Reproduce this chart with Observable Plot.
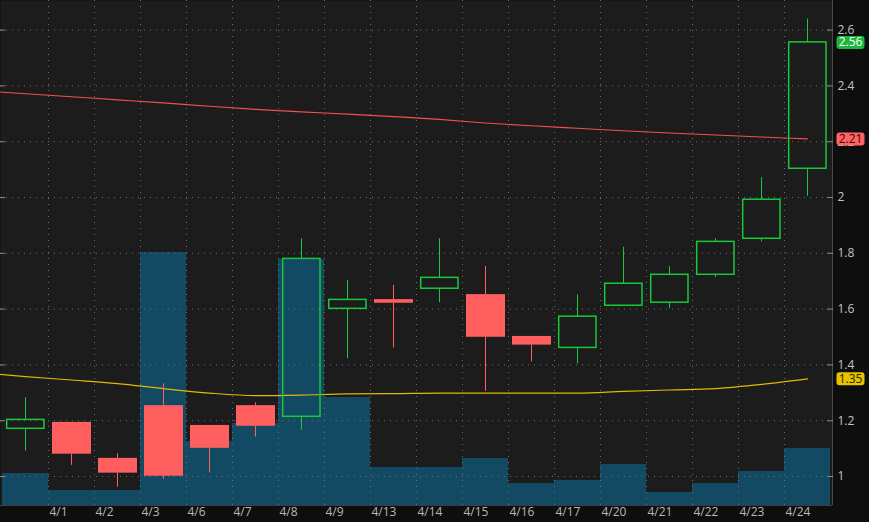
<!DOCTYPE html>
<html><head><meta charset="utf-8">
<script src="https://cdn.jsdelivr.net/npm/d3@7"></script>
<script src="https://cdn.jsdelivr.net/npm/@observablehq/plot@0.6"></script>
<style>
html,body{margin:0;padding:0;background:#0e0e0e;}
#chart{position:relative;width:869px;height:522px;overflow:hidden;}
#chart svg{position:absolute;left:0;top:0;}
</style></head><body><div id="chart"></div>
<script>
// ---- data ----
const dates  = ["3/31","4/1","4/2","4/3","4/6","4/7","4/8","4/9","4/13","4/14","4/15","4/16","4/17","4/20","4/21","4/22","4/23","4/24"];
const open   = [1.171,1.194,1.065,1.254,1.183,1.254,1.214,1.601,1.634,1.673,1.652,1.502,1.461,1.612,1.623,1.723,1.852,2.103];
const high   = [1.282,1.194,1.082,1.332,1.183,1.264,1.852,1.703,1.685,1.852,1.753,1.502,1.651,1.822,1.752,1.852,2.071,2.640];
const low    = [1.091,1.040,0.962,0.990,1.013,1.141,1.165,1.422,1.460,1.623,1.305,1.411,1.404,1.612,1.602,1.712,1.841,2.004];
const close  = [1.203,1.080,1.012,1.001,1.101,1.180,1.780,1.633,1.621,1.712,1.499,1.471,1.573,1.691,1.723,1.841,1.992,2.556];
const volume = [320,150,150,2530,640,820,2460,1080,380,380,470,220,250,410,130,220,340,570];
const maDates = ["3/30", ...dates];
const maSlow = [2.383,2.372,2.361,2.350,2.339,2.327,2.316,2.307,2.299,2.290,2.280,2.267,2.257,2.248,2.239,2.231,2.224,2.217,2.210];
const maFast = [1.372,1.358,1.346,1.333,1.315,1.299,1.290,1.292,1.296,1.297,1.299,1.299,1.299,1.299,1.305,1.310,1.315,1.330,1.350];
const priceTicks = [1,1.2,1.4,1.6,1.8,2,2.2,2.4,2.6];

// ---- styling ----
const GREEN = "#18c83a", RED = "#ff5f5f", MA_RED = "#f24f4f", MA_YEL = "#e3b800";
const VOL = "#134a63", GRID = "#6c6c6c", BG = "#1c1c1c";
const W = 869, H = 522, mR = 37, mB = 17;
const slot = 46;
const xDomain = [-0.5 - 2/slot, dates.length - 0.5 + 2/slot];
const yDomain = [0.8961, 2.7061];

const candles = dates.map((d, i) => ({i, date: d, o: open[i], h: high[i], l: low[i], c: close[i], v: volume[i], up: close[i] >= open[i]}));
const ups = candles.filter(d => d.up), downs = candles.filter(d => !d.up);
const slow = maDates.map((d, k) => ({i: k - 1, v: maSlow[k]}));
const fast = maDates.map((d, k) => ({i: k - 1, v: maFast[k]}));
const badges = [
  {v: close[close.length-1], bg: "#1cb83d", fg: "#ffffff"},
  {v: maSlow[maSlow.length-1], bg: "#ff6464", fg: "#3a0505"},
  {v: maFast[maFast.length-1], bg: "#e8c300", fg: "#2a2200"}
].map(b => ({...b, label: b.v.toFixed(2)}));

const badgeShape = {draw(ctx) {
  const w = 14, h = 6.5, r = 3;
  ctx.moveTo(-w + r, -h); ctx.lineTo(w - r, -h); ctx.arcTo(w, -h, w, -h + r, r);
  ctx.lineTo(w, h - r); ctx.arcTo(w, h, w - r, h, r);
  ctx.lineTo(-w + r, h); ctx.arcTo(-w, h, -w, h - r, r);
  ctx.lineTo(-w, -h + r); ctx.arcTo(-w, -h, -w + r, -h, r); ctx.closePath();
}};

const common = {width: W, height: H, marginTop: 0, marginLeft: 0, marginRight: mR, marginBottom: mB};

// volume layer
const volPlot = Plot.plot({
  ...common,
  style: {background: "#0e0e0e"},
  x: {domain: xDomain, axis: null},
  y: {domain: [0, 5050], axis: null},
  marks: [
    Plot.frame({fill: BG, stroke: null}),
    Plot.rectY(candles, {x1: d => d.i - 0.5, x2: d => d.i + 0.5, y: "v", fill: VOL})
  ]
});

// price layer
const pricePlot = Plot.plot({
  ...common,
  style: {background: "transparent", fontFamily: "'Open Sans', sans-serif", fontSize: "12px", overflow: "visible"},
  color: {type: "identity"},
  x: {domain: xDomain, axis: null},
  y: {domain: yDomain, axis: null},
  marks: [
    Plot.gridY(priceTicks, {stroke: GRID, strokeOpacity: 1, strokeDasharray: "1,5"}),
    Plot.ruleX(candles.slice(1), {x: d => d.i - 0.5, stroke: GRID, strokeDasharray: "1,5"}),
    Plot.ruleX([xDomain[1]], {stroke: "#4a4a4a"}),
    Plot.ruleY([yDomain[0]], {stroke: "#3c3c3c"}),
    Plot.line(slow, {x: "i", y: "v", stroke: MA_RED, strokeWidth: 1.1, curve: "monotone-x", clip: true}),
    Plot.line(fast, {x: "i", y: "v", stroke: MA_YEL, strokeWidth: 1.2, curve: "monotone-x", clip: true}),
    // wicks
    Plot.ruleX(candles, {x: "i", y1: "h", y2: d => Math.max(d.o, d.c), stroke: d => d.up ? GREEN : RED, strokeWidth: 1}),
    Plot.ruleX(candles, {x: "i", y1: "l", y2: d => Math.min(d.o, d.c), stroke: d => d.up ? GREEN : RED, strokeWidth: 1}),
    // bodies
    Plot.rect(downs, {x1: d => d.i - 0.5, x2: d => d.i + 0.5, y1: "o", y2: "c", insetLeft: 4, insetRight: 3, fill: RED}),
    Plot.rect(ups, {x1: d => d.i - 0.5, x2: d => d.i + 0.5, y1: "o", y2: "c", insetLeft: 4.7, insetRight: 4, fill: "none", stroke: GREEN, strokeWidth: 1.5}),
    // axes
    Plot.axisY(priceTicks, {anchor: "right", tickSize: 6, insetRight: 6, tickPadding: 5, stroke: "#8a8a8a", fill: "#c4c4c4", fontSize: 12, tickFormat: d3.format("~g")}),
    Plot.axisY(priceTicks, {anchor: "left", tickSize: 5, insetLeft: 5, stroke: "#8a8a8a", tickFormat: () => ""}),
    Plot.text(candles.slice(1), {x: d => d.i - 0.5, frameAnchor: "bottom", dy: 10, dx: 1, text: "date", textAnchor: "start", fill: "#b8b8b8", fontSize: 12}),
    // badges
    Plot.dot(badges, {y: "v", frameAnchor: "right", dx: 18, symbol: badgeShape, r: 5, fill: "bg", stroke: null}),
    Plot.text(badges, {y: "v", frameAnchor: "right", dx: 18, text: "label", fill: "fg", fontSize: 12, textAnchor: "middle"})
  ]
});

const el = document.getElementById("chart");
el.appendChild(volPlot);
el.appendChild(pricePlot);
</script></body></html>
